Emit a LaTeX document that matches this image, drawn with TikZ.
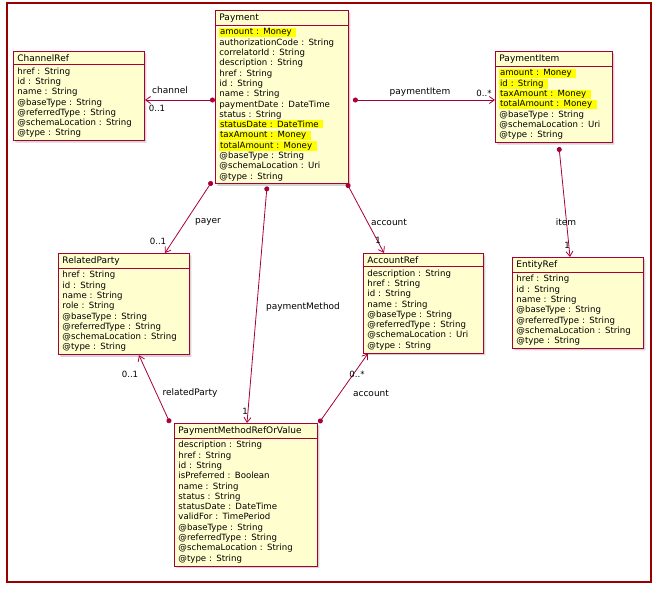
\documentclass[tikz,border=0pt]{standalone}
\usepackage{fontspec}
\setmainfont{DejaVu Sans}
\usetikzlibrary{shapes.multipart,calc,arrows.meta,shadows}
\definecolor{umlb}{HTML}{A80036}
\definecolor{umlf}{HTML}{FEFECE}
\definecolor{frm}{HTML}{990000}
\definecolor{hly}{HTML}{FFFF00}
\newcommand{\hl}[1]{{\setlength{\fboxsep}{0.6pt}\colorbox{hly}{#1\hspace{4pt}}}}
\newcommand{\ttl}[1]{{\fontsize{9}{11}\selectfont #1}}
\tikzset{
 cls/.style={rectangle split, rectangle split parts=2, draw=umlb, fill=umlf, line width=0.9pt,
   rectangle split part align={center,left}, anchor=north west, inner xsep=4pt, inner ysep=2.6pt,
   font=\fontsize{8.6}{10.3}\selectfont, drop shadow={shadow xshift=2pt,shadow yshift=-2pt,opacity=0.35}},
 rel/.style={draw=umlb, line width=0.8pt, {Circle[length=5pt,width=5pt]}-{Straight Barb[length=5pt,width=7pt]}},
 lab/.style={font=\fontsize{9}{11}\selectfont, inner sep=1pt},
 mul/.style={font=\fontsize{8.6}{10}\selectfont, inner sep=1pt}
}
\begin{document}
\begin{tikzpicture}[x=1pt,y=-1pt]
\useasboundingbox (0,0) rectangle (667,595);
\draw[frm, line width=2pt] (7,3) rectangle (651,582);

\node[cls, text width=125pt] (pay) at (215,10) {\ttl{Payment}\nodepart{two}\hl{amount : Money}\\authorizationCode : String\\correlatorId : String\\description : String\\href : String\\id : String\\name : String\\paymentDate : DateTime\\status : String\\\hl{statusDate : DateTime}\\\hl{taxAmount : Money}\\\hl{totalAmount : Money}\\@baseType : String\\@schemaLocation : Uri\\@type : String};

\node[cls, text width=123pt] (ch) at (13,51) {\ttl{ChannelRef}\nodepart{two}href : String\\id : String\\name : String\\@baseType : String\\@referredType : String\\@schemaLocation : String\\@type : String};

\node[cls, text width=109pt] (pi) at (495,51) {\ttl{PaymentItem}\nodepart{two}\hl{amount : Money}\\\hl{id : String}\\\hl{taxAmount : Money}\\\hl{totalAmount : Money}\\@baseType : String\\@schemaLocation : Uri\\@type : String};

\node[cls, text width=123pt] (rp) at (58,253) {\ttl{RelatedParty}\nodepart{two}href : String\\id : String\\name : String\\role : String\\@baseType : String\\@referredType : String\\@schemaLocation : String\\@type : String};

\node[cls, text width=112pt] (ar) at (363,253) {\ttl{AccountRef}\nodepart{two}description : String\\href : String\\id : String\\name : String\\@baseType : String\\@referredType : String\\@schemaLocation : Uri\\@type : String};

\node[cls, text width=123pt] (er) at (512,257) {\ttl{EntityRef}\nodepart{two}href : String\\id : String\\name : String\\@baseType : String\\@referredType : String\\@schemaLocation : String\\@type : String};

\node[cls, text width=135pt] (pm) at (174,423) {\ttl{PaymentMethodRefOrValue}\nodepart{two}description : String\\href : String\\id : String\\isPreferred : Boolean\\name : String\\status : String\\statusDate : DateTime\\validFor : TimePeriod\\@baseType : String\\@referredType : String\\@schemaLocation : String\\@type : String};

% connectors
\draw[rel] (pay.west |- 0,100) -- (ch.east |- 0,100);
\node[lab] at (170,90) {channel};
\node[mul] at (157,108) {0..1};

\draw[rel] ($(pay.east |- 0,100)+(4,0)$) -- (pi.west |- 0,100);
\node[lab] at (420,92) {paymentItem};
\node[mul] at (484,93) {0..*};

\draw[rel] ($(pay.south west)+(-3,-3)$) -- ($(rp.north west)+(107,0)$);
\node[lab] at (208,222) {payer};
\node[mul] at (158,241) {0..1};

\draw[rel] ($(pay.south west)+(52,2)$) -- ($(pm.north west)+(73,0)$);
\node[lab] at (303,307) {paymentMethod};
\node[mul] at (245,411) {1};

\draw[rel] ($(pay.south east)+(-2,-1)$) -- ($(ar.north west)+(21,0)$);
\node[lab] at (389,222) {account};
\node[mul] at (378,240) {1};

\draw[rel] ($(pi.south west)+(64,4)$) -- ($(er.north west)+(58,0)$);
\node[lab] at (566,222) {item};
\node[mul] at (567,245) {1};

\draw[rel] ($(pm.north west)+(-4,0)$) -- ($(rp.south west)+(81,0)$);
\node[lab] at (190,393) {relatedParty};
\node[mul] at (130,374) {0..1};

\draw[rel] ($(pm.north east)+(1,0)$) -- ($(ar.south west)+(5,0)$);
\node[lab] at (371,393) {account};
\node[mul] at (357,374) {0..*};
\end{tikzpicture}
\end{document}
